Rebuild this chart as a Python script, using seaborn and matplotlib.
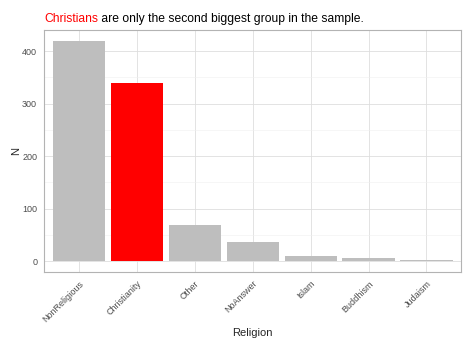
import matplotlib
matplotlib.use("Agg")
import matplotlib.pyplot as plt
import seaborn as sns
import pandas as pd

religion = ["NonReligious", "Christianity", "Other", "NoAnswer", "Islam", "Buddhism", "Judaism"]
counts = [419, 340, 69, 36, 10, 6, 2]
highlight = ["Christianity"]

df = pd.DataFrame({"Religion": religion, "N": counts})
palette = {r: ("#FF0000" if r in highlight else "#BEBEBE") for r in religion}

sns.set_style("whitegrid")
plt.rcParams["font.family"] = ["Liberation Sans", "DejaVu Sans"]

fig = plt.figure(figsize=(4.74, 3.38), dpi=100)
ax = fig.add_axes([0.093, 0.195, 0.88, 0.716])

sns.barplot(data=df, x="Religion", y="N", hue="Religion", palette=palette,
            order=religion, width=0.9, legend=False, ax=ax, saturation=1,
            linewidth=0)

ax.set_xlim(-0.6, 6.6)
ax.set_ylim(-21, 440)
ax.set_yticks([0, 100, 200, 300, 400])
ax.set_yticks([50, 150, 250, 350], minor=True)
ax.grid(True, which="major", color="#DEDEDE", linewidth=0.6)
ax.grid(True, which="minor", axis="y", color="#EFEFEF", linewidth=0.4)
ax.set_axisbelow(True)
for s in ax.spines.values():
    s.set_color("#B3B3B3")
    s.set_linewidth(0.8)

ax.tick_params(axis="both", which="major", length=3, color="#B3B3B3",
               labelsize=6.5, labelcolor="#4D4D4D", pad=2)
ax.tick_params(axis="y", which="minor", length=0)
plt.setp(ax.get_xticklabels(), rotation=45, ha="right", rotation_mode="anchor")

ax.set_xlabel("Religion", fontsize=8, labelpad=3)
ax.set_ylabel("N", fontsize=8, labelpad=1)

# title with the highlighted word in red
t1 = fig.text(0.093, 0.945, "Christians", color="#FF0000", fontsize=8.7, va="center")
fig.canvas.draw()
bb = t1.get_window_extent()
x2 = fig.transFigure.inverted().transform((bb.x1, bb.y0))[0]
fig.text(x2, 0.945, " are only the second biggest group in the sample.",
         color="black", fontsize=8.7, va="center")

fig.savefig("out.png", dpi=100)
